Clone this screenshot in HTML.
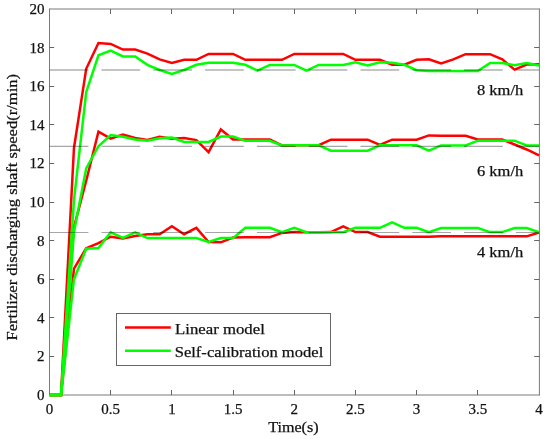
<!DOCTYPE html>
<html><head><meta charset="utf-8"><title>Fertilizer discharging shaft speed</title>
<style>
html,body{margin:0;padding:0;background:#fff;}
body{width:550px;height:439px;overflow:hidden;}
svg{display:block;}
svg text{font-family:'Liberation Serif', 'DejaVu Serif', serif;font-size:15px;fill:#111;stroke:#111;stroke-width:0.25px;}
</style></head><body>
<svg width="550" height="439" viewBox="0 0 550 439">
<rect x="0" y="0" width="550" height="439" fill="#fff"/>
<path d="M49.5 9 H539.5 M49.5 395 H539.5" stroke="#7a7a7a" stroke-width="1" fill="none"/>
<path d="M49.5 8.5 V395.5 M539.4 8.5 V395.5" stroke="#7a7a7a" stroke-width="1" fill="none"/>
<polyline points="49.50,395.00 61.04,395.00 73.97,147.96 86.21,68.83 98.45,42.97 110.69,43.93 122.93,49.53 135.16,49.53 147.40,53.58 159.64,59.37 171.88,62.85 184.11,59.76 196.35,59.76 208.59,53.97 220.83,53.97 233.06,53.97 245.30,59.76 257.54,59.76 269.77,59.76 282.01,59.76 294.25,53.97 306.49,53.97 318.73,53.97 330.96,53.97 343.20,53.97 355.44,59.76 367.68,59.76 379.91,59.76 392.15,64.78 404.39,64.78 416.62,59.76 428.86,59.37 441.10,63.43 453.34,59.37 465.58,54.16 477.81,54.16 490.05,54.16 502.29,59.37 514.53,69.60 526.76,64.58 539.00,64.20" fill="none" stroke="#ff0000" stroke-width="2.5" stroke-linejoin="miter"/>
<polyline points="49.50,395.00 61.04,395.00 73.97,227.09 86.21,180.77 98.45,131.75 110.69,138.70 122.93,134.64 135.16,137.92 147.40,140.05 159.64,136.77 171.88,138.70 184.11,137.92 196.35,140.05 208.59,152.21 220.83,129.43 233.06,139.47 245.30,139.47 257.54,139.47 269.77,139.47 282.01,145.45 294.25,145.26 306.49,145.26 318.73,145.26 330.96,139.66 343.20,139.66 355.44,139.66 367.68,139.66 379.91,144.87 392.15,139.66 404.39,139.66 416.62,139.66 428.86,135.42 441.10,135.80 453.34,135.80 465.58,135.80 477.81,139.47 490.05,139.47 502.29,139.47 514.53,144.49 526.76,149.50 539.00,155.49" fill="none" stroke="#ff0000" stroke-width="2.5" stroke-linejoin="miter"/>
<polyline points="49.50,395.00 61.04,395.00 73.97,268.58 86.21,248.32 98.45,243.11 110.69,236.74 122.93,238.48 135.16,235.97 147.40,234.23 159.64,234.23 171.88,226.32 184.11,234.23 196.35,227.86 208.59,241.95 220.83,242.34 233.06,237.51 245.30,237.13 257.54,237.13 269.77,237.13 282.01,232.88 294.25,232.11 306.49,232.30 318.73,232.30 330.96,232.11 343.20,226.32 355.44,232.11 367.68,232.11 379.91,236.74 392.15,236.74 404.39,236.74 416.62,236.74 428.86,236.74 441.10,236.35 453.34,236.35 465.58,236.35 477.81,236.35 490.05,236.35 502.29,236.35 514.53,236.35 526.76,236.35 539.00,232.49" fill="none" stroke="#ff0000" stroke-width="2.5" stroke-linejoin="miter"/>
<polyline points="49.50,395.00 61.04,395.00 73.97,200.07 86.21,91.99 98.45,55.32 110.69,50.69 122.93,56.48 135.16,56.48 147.40,64.78 159.64,69.99 171.88,74.04 184.11,69.99 196.35,64.78 208.59,62.65 220.83,62.65 233.06,62.65 245.30,64.78 257.54,70.57 269.77,64.97 282.01,64.97 294.25,64.97 306.49,70.57 318.73,64.97 330.96,64.97 343.20,64.97 355.44,62.27 367.68,65.55 379.91,62.27 392.15,62.65 404.39,64.78 416.62,70.18 428.86,70.95 441.10,70.95 453.34,70.95 465.58,70.95 477.81,70.95 490.05,63.04 502.29,63.04 514.53,65.16 526.76,63.04 539.00,65.55" fill="none" stroke="#00ff00" stroke-width="2.5" stroke-linejoin="miter"/>
<polyline points="49.50,395.00 61.04,395.00 73.97,231.92 86.21,168.42 98.45,146.22 110.69,135.03 122.93,136.77 135.16,139.47 147.40,140.82 159.64,138.31 171.88,137.54 184.11,141.98 196.35,141.98 208.59,141.98 220.83,136.57 233.06,136.57 245.30,140.82 257.54,140.82 269.77,140.82 282.01,145.45 294.25,145.26 306.49,145.26 318.73,145.26 330.96,150.66 343.20,150.66 355.44,150.66 367.68,150.66 379.91,145.26 392.15,145.26 404.39,145.26 416.62,145.26 428.86,150.66 441.10,145.45 453.34,145.45 465.58,145.45 477.81,140.63 490.05,140.63 502.29,140.63 514.53,140.63 526.76,145.45 539.00,145.45" fill="none" stroke="#00ff00" stroke-width="2.5" stroke-linejoin="miter"/>
<polyline points="49.50,395.00 61.04,395.00 73.97,279.20 86.21,248.71 98.45,247.93 110.69,232.30 122.93,237.90 135.16,232.30 147.40,238.09 159.64,238.09 171.88,238.09 184.11,238.09 196.35,238.09 208.59,241.95 220.83,238.09 233.06,238.09 245.30,227.86 257.54,227.86 269.77,227.86 282.01,232.11 294.25,227.86 306.49,232.30 318.73,232.30 330.96,232.30 343.20,232.30 355.44,227.86 367.68,227.86 379.91,227.86 392.15,222.27 404.39,227.86 416.62,227.86 428.86,232.11 441.10,228.05 453.34,228.05 465.58,228.05 477.81,228.05 490.05,232.11 502.29,232.11 514.53,228.05 526.76,228.05 539.00,232.11" fill="none" stroke="#00ff00" stroke-width="2.5" stroke-linejoin="miter"/>
<line x1="49.70" y1="69.99" x2="539.00" y2="69.99" stroke="#8a8a8a" stroke-width="1.2" stroke-dasharray="38.7 13.1" style="mix-blend-mode:multiply"/>
<line x1="49.70" y1="146.42" x2="539.00" y2="146.42" stroke="#a6a6a6" stroke-width="1.1" stroke-dasharray="38.7 13.1" style="mix-blend-mode:multiply"/>
<line x1="49.70" y1="232.49" x2="539.00" y2="232.49" stroke="#a6a6a6" stroke-width="1.1" stroke-dasharray="38.7 13.1" style="mix-blend-mode:multiply"/>
<path d="M110.5 395 V390 M110.5 9 V14 M171.5 395 V390 M171.5 9 V14 M233.5 395 V390 M233.5 9 V14 M294.5 395 V390 M294.5 9 V14 M355.5 395 V390 M355.5 9 V14 M416.5 395 V390 M416.5 9 V14 M477.5 395 V390 M477.5 9 V14 M49.5 356.5 H54.2 M539.4 356.5 H534.2 M49.5 317.5 H54.2 M539.4 317.5 H534.2 M49.5 279.5 H54.2 M539.4 279.5 H534.2 M49.5 240.5 H54.2 M539.4 240.5 H534.2 M49.5 202.5 H54.2 M539.4 202.5 H534.2 M49.5 163.5 H54.2 M539.4 163.5 H534.2 M49.5 124.5 H54.2 M539.4 124.5 H534.2 M49.5 86.5 H54.2 M539.4 86.5 H534.2 M49.5 47.5 H54.2 M539.4 47.5 H534.2" stroke="#666" stroke-width="1" fill="none"/>
<text x="49.50" y="413.7" text-anchor="middle">0</text>
<text x="110.69" y="413.7" text-anchor="middle">0.5</text>
<text x="171.88" y="413.7" text-anchor="middle">1</text>
<text x="233.06" y="413.7" text-anchor="middle">1.5</text>
<text x="294.25" y="413.7" text-anchor="middle">2</text>
<text x="355.44" y="413.7" text-anchor="middle">2.5</text>
<text x="416.62" y="413.7" text-anchor="middle">3</text>
<text x="477.81" y="413.7" text-anchor="middle">3.5</text>
<text x="539.00" y="413.7" text-anchor="middle">4</text>
<text x="44.6" y="400.00" text-anchor="end">0</text>
<text x="44.6" y="361.40" text-anchor="end">2</text>
<text x="44.6" y="322.80" text-anchor="end">4</text>
<text x="44.6" y="284.20" text-anchor="end">6</text>
<text x="44.6" y="245.60" text-anchor="end">8</text>
<text x="44.6" y="207.00" text-anchor="end">10</text>
<text x="44.6" y="168.40" text-anchor="end">12</text>
<text x="44.6" y="129.80" text-anchor="end">14</text>
<text x="44.6" y="91.20" text-anchor="end">16</text>
<text x="44.6" y="52.60" text-anchor="end">18</text>
<text x="44.6" y="14.00" text-anchor="end">20</text>
<text x="293.4" y="431.6" text-anchor="middle" textLength="50.5" lengthAdjust="spacingAndGlyphs">Time(s)</text>
<text transform="translate(17.3,207.2) rotate(-90)" text-anchor="middle" textLength="266.5" lengthAdjust="spacingAndGlyphs">Fertilizer discharging shaft speed(r/min)</text>
<text x="477.0" y="95.0" textLength="46.3" lengthAdjust="spacingAndGlyphs">8 km/h</text>
<text x="477.0" y="176.3" textLength="46.3" lengthAdjust="spacingAndGlyphs">6 km/h</text>
<text x="477.0" y="257.2" textLength="46.3" lengthAdjust="spacingAndGlyphs">4 km/h</text>
<rect x="116.5" y="313.5" width="214" height="52" fill="#fff" stroke="#666" stroke-width="1"/>
<line x1="125" y1="327.4" x2="170.8" y2="327.4" stroke="#ff0000" stroke-width="2.5"/>
<line x1="125" y1="350.8" x2="170.8" y2="350.8" stroke="#00ff00" stroke-width="2.5"/>
<text x="175.0" y="333.6" style="font-size:15.5px" textLength="89.8" lengthAdjust="spacingAndGlyphs">Linear model</text>
<text x="174.7" y="357.3" style="font-size:15.5px" textLength="148.6" lengthAdjust="spacingAndGlyphs">Self-calibration model</text>
</svg>
</body></html>
